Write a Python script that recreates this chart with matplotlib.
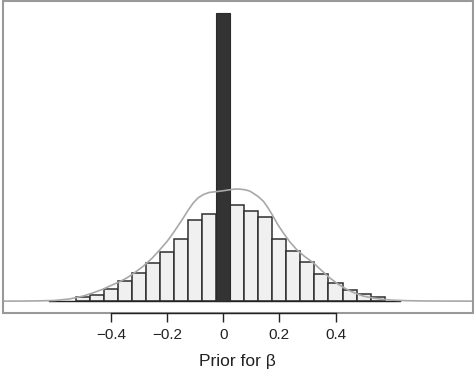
import numpy as np
import matplotlib
matplotlib.use("Agg")
import matplotlib.pyplot as plt
from matplotlib.patches import Rectangle

plt.rcParams['font.family'] = ['Liberation Sans', 'DejaVu Sans']

# histogram of the prior (bin width 0.05), centre bin is covered by the spike
bin_width = 0.05
left_centers = [-0.50, -0.45, -0.40, -0.35, -0.30, -0.25, -0.20, -0.15, -0.10, -0.05]
left_heights = [0.10, 0.15, 0.28, 0.47, 0.66, 0.91, 1.17, 1.48, 1.92, 2.08]
right_centers = [0.05, 0.10, 0.15, 0.20, 0.25, 0.30, 0.35, 0.40, 0.45, 0.50, 0.55]
right_heights = [2.28, 2.15, 1.99, 1.47, 1.18, 0.92, 0.65, 0.43, 0.26, 0.17, 0.09]

# point mass at zero
spike_center = 0.0
spike_height = 6.85

# smooth prior density (gray curve)
curve_x = [-0.79, -0.70, -0.65, -0.60, -0.55, -0.50, -0.463, -0.43, -0.404, -0.37,
           -0.344, -0.315, -0.285, -0.255, -0.226, -0.20, -0.178, -0.16, -0.143,
           -0.125, -0.107, -0.09, -0.071, -0.05, -0.024, 0.0, 0.02, 0.04, 0.059,
           0.08, 0.095, 0.107, 0.125, 0.143, 0.16, 0.178, 0.195, 0.214, 0.237,
           0.262, 0.29, 0.321, 0.35, 0.380, 0.41, 0.44, 0.47, 0.499, 0.53, 0.559,
           0.60, 0.65, 0.72, 0.89]
curve_y = [0.0, 0.003, 0.008, 0.017, 0.05, 0.12, 0.20, 0.28, 0.36, 0.46,
           0.55, 0.68, 0.83, 1.01, 1.22, 1.42, 1.62, 1.80, 1.97,
           2.16, 2.33, 2.45, 2.53, 2.58, 2.60, 2.62, 2.64, 2.66, 2.66,
           2.64, 2.61, 2.56, 2.48, 2.37, 2.21, 2.01, 1.81, 1.62, 1.41,
           1.22, 1.06, 0.91, 0.73, 0.55, 0.40, 0.28, 0.19, 0.12, 0.08, 0.05,
           0.025, 0.012, 0.004, 0.0]

xticks = [-0.4, -0.2, 0, 0.2, 0.4]
xticklabels = ["\u22120.4", "\u22120.2", "0", "0.2", "0.4"]

fig = plt.figure(figsize=(4.74, 3.75), dpi=100)
ax = fig.add_axes([0.0057, 0.166, 0.9916, 0.831])

ax.bar(left_centers + right_centers, left_heights + right_heights, width=bin_width,
       color="#f0f0f0", edgecolor="#2e2e2e", linewidth=1.1, zorder=2)
ax.bar([spike_center], [spike_height], width=bin_width,
       color="#333333", edgecolor="#2a2a2a", linewidth=0.8, zorder=3)
ax.plot([-0.62, 0.63], [0, 0], color="#222222", linewidth=1.0, zorder=2)
ax.plot(curve_x, curve_y, color="#a8a8a8", linewidth=1.2, zorder=4)

ax.set_xlim(-0.786, 0.889)
ax.set_ylim(-0.275, 7.12)

# R-style box and axis
for s in ["top", "left", "right"]:
    ax.spines[s].set_visible(False)
ax.spines["bottom"].set_bounds(-0.4, 0.4)
ax.spines["bottom"].set_color("#222222")
ax.spines["bottom"].set_linewidth(1.0)
ax.spines["bottom"].set_zorder(6)
ax.add_patch(Rectangle((0, 0), 1, 1, transform=ax.transAxes, fill=False,
                       edgecolor="#999999", linewidth=1.5, clip_on=False, zorder=5))

ax.set_xticks(xticks)
ax.set_xticklabels(xticklabels)
ax.set_yticks([])
ax.tick_params(axis="x", direction="out", length=6.5, width=1.0, color="#222222",
               labelsize=11, pad=4.5, labelcolor="#222222")
ax.set_xlabel("Prior for \u03b2", fontsize=12.5, color="#222222", labelpad=8.5)

fig.savefig("out.png", dpi=100)
